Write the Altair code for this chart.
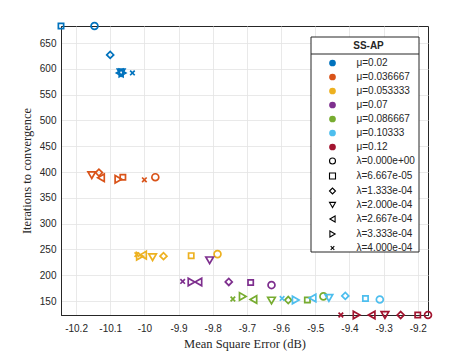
import altair as alt
import pandas as pd

# ---------------- data ----------------
mu_labels = ["μ=0.02", "μ=0.036667", "μ=0.053333", "μ=0.07",
             "μ=0.086667", "μ=0.10333", "μ=0.12"]
lam_labels = ["λ=0.000e+00", "λ=6.667e-05", "λ=1.333e-04", "λ=2.000e-04",
              "λ=2.667e-04", "λ=3.333e-04", "λ=4.000e-04"]

# order of values in every list below follows lam_labels
mse_mu1 = [-10.146, -10.244, -10.100, -10.068, -10.072, -10.064, -10.035]
it_mu1 = [683, 683, 627, 593, 592, 592, 592]
mse_mu2 = [-9.968, -10.063, -10.133, -10.154, -10.127, -10.076, -10.000]
it_mu2 = [390, 390, 399, 394, 389, 386, 385]
mse_mu3 = [-9.786, -9.863, -9.944, -9.976, -10.004, -10.013, -10.022]
it_mu3 = [241, 238, 237, 235, 239, 237, 240]
mse_mu4 = [-9.628, -9.689, -9.753, -9.809, -9.842, -9.862, -9.888]
it_mu4 = [181, 186, 187, 229, 187, 187, 188]
mse_mu5 = [-9.476, -9.523, -9.579, -9.628, -9.681, -9.712, -9.741]
it_mu5 = [159, 152, 152, 151, 153, 159, 154]
mse_mu6 = [-9.311, -9.353, -9.412, -9.460, -9.508, -9.557, -9.597]
it_mu6 = [153, 155, 160, 156, 156, 152, 155]
mse_mu7 = [-9.170, -9.200, -9.250, -9.296, -9.335, -9.379, -9.425]
it_mu7 = [123, 123, 123, 123, 123, 123, 123]

x_ticks = [-10.2, -10.1, -10.0, -9.9, -9.8, -9.7, -9.6, -9.5, -9.4, -9.3, -9.2]
y_ticks = [150, 200, 250, 300, 350, 400, 450, 500, 550, 600, 650]

# ---------------- styling ----------------
mu_colors = ["#0072BD", "#D95319", "#EDB120", "#7E2F8E",
             "#77AC30", "#4DBEEE", "#A2142F"]
X_PATH = "M-0.6,-0.6L0.6,0.6M0.6,-0.6L-0.6,0.6"
lam_shapes = ["circle", "square", "diamond", "triangle-down",
              "triangle-left", "triangle-right", X_PATH]
lam_sizes = [48, 28, 48, 58, 58, 58, 58]

mse_all = [mse_mu1, mse_mu2, mse_mu3, mse_mu4, mse_mu5, mse_mu6, mse_mu7]
it_all = [it_mu1, it_mu2, it_mu3, it_mu4, it_mu5, it_mu6, it_mu7]
rows = []
for mi, mu in enumerate(mu_labels):
    for li, lam in enumerate(lam_labels):
        rows.append({"mu": mu, "lam": lam, "mse": mse_all[mi][li],
                     "iters": it_all[mi][li], "order": mi * 7 + li})
df = pd.DataFrame(rows)

x_scale = alt.Scale(domain=[-10.244, -9.170], nice=False, zero=False)
y_scale = alt.Scale(domain=[123, 683], nice=False, zero=False)
color_scale = alt.Scale(domain=mu_labels, range=mu_colors)
shape_scale = alt.Scale(domain=lam_labels, range=lam_shapes)
size_scale = alt.Scale(type="ordinal", domain=lam_labels, range=lam_sizes)

x_axis = alt.Axis(values=x_ticks, title="Mean Square Error (dB)",
                  labelExpr="toString(round(datum.value*10)/10)",
                  labelOverlap=False, labelBound=False,
                  labelPadding=8, titlePadding=4)
y_axis = alt.Axis(values=y_ticks, title="Iterations to convergence",
                  labelOverlap=False, labelBound=False,
                  format="d", labelPadding=5, titlePadding=6)

points = alt.Chart(df).mark_point(filled=False, strokeWidth=1.7, opacity=1, clip=False).encode(
    x=alt.X("mse:Q", scale=x_scale, axis=x_axis),
    y=alt.Y("iters:Q", scale=y_scale, axis=y_axis),
    color=alt.Color("mu:N", scale=color_scale, legend=None),
    shape=alt.Shape("lam:N", scale=shape_scale,
                    legend=alt.Legend(title=None, orient="none", legendX=266.5, legendY=130,
                                      symbolStrokeColor="black", symbolStrokeWidth=1.1,
                                      symbolSize=36, symbolFillColor="transparent",
                                      labelOffset=19, rowPadding=3, padding=0)),
    size=alt.Size("lam:N", scale=size_scale, legend=None),
    order=alt.Order("order:Q"),
)

frame = alt.Chart(alt.Data(values=[{"k": 1}])).mark_rect(
    fill="white", stroke="#262626", strokeWidth=1).encode(
    x=alt.value(250), x2=alt.value(358), y=alt.value(11), y2=alt.value(226))
sep = alt.Chart(alt.Data(values=[{"k": 1}])).mark_rule(
    color="#262626", strokeWidth=1).encode(
    x=alt.value(250), x2=alt.value(358), y=alt.value(28))

legend_mu = alt.Chart(df).transform_filter("datum.mse > 0").mark_point(
    filled=True, opacity=1).encode(
    x=alt.X("mse:Q", scale=x_scale, axis=x_axis),
    y=alt.Y("iters:Q", scale=y_scale, axis=y_axis),
    color=alt.Color("mu:N", scale=color_scale,
                    legend=alt.Legend(title="SS-AP", orient="none", legendX=266.5, legendY=15,
                                      titleFontSize=10, titleFontWeight="bold",
                                      titleFont="Liberation Sans",
                                      titleAnchor="middle", titlePadding=7,
                                      symbolType="circle", symbolSize=45,
                                      symbolStrokeWidth=0,
                                      labelOffset=19, rowPadding=4, padding=0)),
)

chart = alt.layer(points, frame, sep, legend_mu).resolve_legend(
    color="independent", shape="independent"
).properties(
    width=367, height=289,
    padding={"left": 53, "top": 18, "right": 10, "bottom": 40},
    autosize=alt.AutoSizeParams(type="none"),
).configure_view(
    stroke="#262626", strokeWidth=1
).configure_axis(
    labelFont="Liberation Sans", labelFontSize=10, labelColor="#262626",
    titleFont="Liberation Serif", titleFontSize=12.5, titleFontWeight="normal",
    titleColor="#262626", domainColor="#262626", domainWidth=1,
    ticks=False, tickSize=0, gridColor="#e3e3e3", gridWidth=0.8,
    labelOverlap=False,
).configure_legend(
    labelFont="Liberation Sans", labelFontSize=10, labelColor="#262626",
    titleFont="Liberation Sans", titleColor="#262626",
)

chart.save("out.html", embed_options={"renderer": "svg", "actions": False})
